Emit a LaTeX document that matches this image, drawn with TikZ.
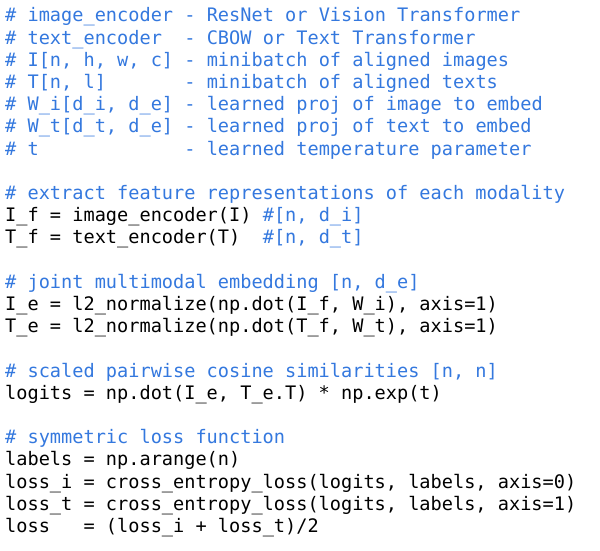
\documentclass[tikz,border=0pt]{standalone}
\usepackage{fontspec}
\setmonofont{DejaVu Sans Mono}
\usepackage{tikz}
\definecolor{cmtblue}{RGB}{52,120,222}
\tikzset{x=1pt,y=1pt,
        code/.style={anchor=base west,inner sep=0pt,font=\ttfamily\fontsize{18.6}{22}\selectfont},
        comment/.style={code,text=cmtblue}
        }
\begin{document}
\begin{tikzpicture}
    \useasboundingbox (0,0) rectangle (600,551);
    % header comments
    \node[comment] (h1) at (5,529) {\# image\_encoder};
    \node[comment] (h2) at (5,506.8) {\# text\_encoder};
    \node[comment] (h3) at (5,484.6) {\# I[n, h, w, c]};
    \node[comment] (h4) at (5,462.4) {\# T[n, l]};
    \node[comment] (h5) at (5,440.2) {\# W\_i[d\_i, d\_e]};
    \node[comment] (h6) at (5,418.0) {\# W\_t[d\_t, d\_e]};
    \node[comment] (h7) at (5,395.8) {\# t};
    \node[comment] (d1) at (184.2,529) {- ResNet or Vision Transformer};
    \node[comment] (d2) at (184.2,506.8) {- CBOW or Text Transformer};
    \node[comment] (d3) at (184.2,484.6) {- minibatch of aligned images};
    \node[comment] (d4) at (184.2,462.4) {- minibatch of aligned texts};
    \node[comment] (d5) at (184.2,440.2) {- learned proj of image to embed};
    \node[comment] (d6) at (184.2,418.0) {- learned proj of text to embed};
    \node[comment] (d7) at (184.2,395.8) {- learned temperature parameter};
    % feature extraction
    \node[comment] (c1) at (5,351.4) {\# extract feature representations of each modality};
    \node[code] (f1) at (5,329.2) {I\_f = image\_encoder(I)};
    \node[code] (f2) at (5,307.0) {T\_f = text\_encoder(T)};
    \node[comment] (f1c) at (262.6,329.2) {\#[n, d\_i]};
    \node[comment] (f2c) at (262.6,307.0) {\#[n, d\_t]};
    % joint embedding
    \node[comment] (c2) at (5,262.6) {\# joint multimodal embedding [n, d\_e]};
    \node[code] (e1) at (5,240.4) {I\_e = l2\_normalize(np.dot(I\_f, W\_i), axis=1)};
    \node[code] (e2) at (5,218.2) {T\_e = l2\_normalize(np.dot(T\_f, W\_t), axis=1)};
    % similarities
    \node[comment] (c3) at (5,173.8) {\# scaled pairwise cosine similarities [n, n]};
    \node[code] (s1) at (5,151.6) {logits = np.dot(I\_e, T\_e.T) * np.exp(t)};
    % loss
    \node[comment] (c4) at (5,107.2) {\# symmetric loss function};
    \node[code] (l1) at (5,85.0) {labels = np.arange(n)};
    \node[code] (l2) at (5,62.8) {loss\_i = cross\_entropy\_loss(logits, labels, axis=0)};
    \node[code] (l3) at (5,40.6) {loss\_t = cross\_entropy\_loss(logits, labels, axis=1)};
    \node[code] (l4) at (5,18.4) {loss};
    \node[code] (l4r) at (83.4,18.4) {= (loss\_i + loss\_t)/2};
\end{tikzpicture}
\end{document}
